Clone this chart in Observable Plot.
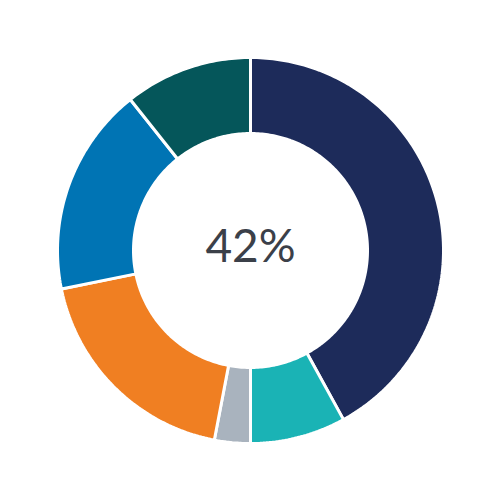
<!DOCTYPE html>
<html>
<head>
<meta charset="utf-8">
<script src="https://cdn.jsdelivr.net/npm/d3@7"></script>
<script src="https://cdn.jsdelivr.net/npm/@observablehq/plot@0.6"></script>
<style>
  html, body { margin: 0; padding: 0; background: #fff; }
</style>
</head>
<body>
<div id="chart"></div>
<script>
const categories = ["A", "B", "C", "D", "E", "F"];
const values = [42, 8, 3, 18.8, 17.5, 10.7];
const colors = ["#1d2b5a", "#1ab3b5", "#a9b3be", "#f07f22", "#0074b4", "#05565a"];
const centerLabel = "42%";

const outerR = 193, innerR = 117;
const arcs = d3.pie().sort(null).value(d => d)(values);
const pts = [];
arcs.forEach((a, i) => {
  const n = Math.max(8, Math.ceil((a.endAngle - a.startAngle) * 60));
  for (let k = 0; k <= n; k++) {
    const t = a.startAngle + (a.endAngle - a.startAngle) * k / n;
    pts.push({cat: categories[i], x: outerR * Math.sin(t), y: outerR * Math.cos(t)});
  }
  for (let k = n; k >= 0; k--) {
    const t = a.startAngle + (a.endAngle - a.startAngle) * k / n;
    pts.push({cat: categories[i], x: innerR * Math.sin(t), y: innerR * Math.cos(t)});
  }
  const t0 = a.startAngle;
  pts.push({cat: categories[i], x: outerR * Math.sin(t0), y: outerR * Math.cos(t0)});
});

const chart = Plot.plot({
  width: 500,
  height: 500,
  margin: 0,
  x: {domain: [-250, 250], axis: null},
  y: {domain: [-250, 250], axis: null},
  color: {domain: categories, range: colors},
  marks: [
    Plot.line(pts, {x: "x", y: "y", z: "cat", fill: "cat", stroke: "white", strokeWidth: 3, strokeLinejoin: "miter"}),
    Plot.text([centerLabel], {x: () => 0, y: () => 0, dy: -3, text: d => d, fontSize: 46, fill: "#3b4049", fontWeight: 400, fontFamily: "Lato, 'Open Sans', sans-serif"})
  ]
});
document.getElementById("chart").appendChild(chart);
</script>
</body>
</html>
